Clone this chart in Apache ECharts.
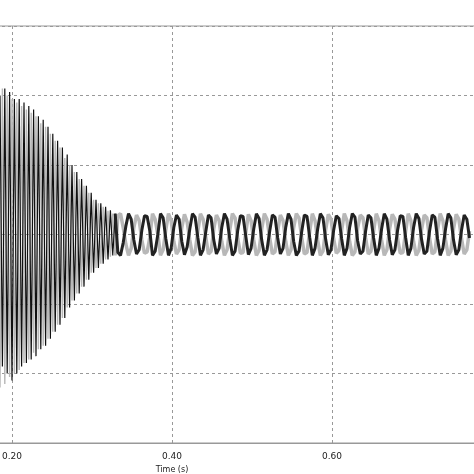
<!DOCTYPE html>
<html><head><meta charset="utf-8">
<script src="https://cdn.jsdelivr.net/npm/echarts@6/dist/echarts.min.js"></script>
<style>html,body{margin:0;padding:0;background:#fff}#c{width:474px;height:474px}</style>
</head><body><div id="c"></div>
<script>
const xTickLabels = ['0.00','0.20','0.40','0.60','0.80'];
const transientStart = 0.185, transientStep = 0.003;
const transientBlack = [2.0,-1.9,2.1,-2.0,2.05,-2.1,1.95,-2.0,1.95,-1.9,1.9,-1.85,1.85,-1.8,1.8,-1.75,1.7,-1.65,1.65,-1.6,1.55,-1.5,1.45,-1.4,1.35,-1.3,1.25,-1.2,1.15,-1.05,1.0,-0.95,0.9,-0.85,0.8,-0.75,0.7,-0.65,0.6,-0.55,0.5,-0.48,0.45,-0.42,0.4,-0.36,0.35,-0.3,0.3];
const transientGray = [-2.2,2.1,-2.15,2.0,-2.05,1.95,-2.0,1.9,-1.95,1.85,-1.85,1.8,-1.8,1.75,-1.7,1.7,-1.65,1.6,-1.6,1.55,-1.5,1.45,-1.4,1.35,-1.3,1.25,-1.2,1.1,-1.05,1.0,-0.95,0.9,-0.85,0.8,-0.75,0.7,-0.65,0.6,-0.55,0.5,-0.48,0.45,-0.42,0.4,-0.36,0.34,-0.32,0.3,-0.3];
const steadyStart = 0.329, steadyStep = 0.00333;
const steadyBlack = [
  0.3,-0.26,-0.3,-0.12, 0.12, 0.3,
  0.22,-0.08,-0.28,-0.22, 0.06, 0.27,
  0.26, 0.05,-0.3,-0.24, 0.0, 0.3,
  0.24,-0.06,-0.3,-0.2, 0.1, 0.28,
  0.22,-0.1,-0.29,-0.18, 0.08, 0.3,
  0.25,-0.04,-0.3,-0.22, 0.04, 0.28,
  0.24,-0.08,-0.28,-0.2, 0.1, 0.3,
  0.22,-0.06,-0.3,-0.24, 0.06, 0.27,
  0.26,-0.02,-0.29,-0.2, 0.08, 0.3,
  0.23,-0.08,-0.3,-0.22, 0.05, 0.28,
  0.25,-0.05,-0.28,-0.2, 0.1, 0.3,
  0.22,-0.1,-0.3,-0.24, 0.04, 0.28,
  0.26,-0.04,-0.3,-0.2, 0.08, 0.3,
  0.24,-0.07,-0.29,-0.22, 0.06, 0.27,
  0.23,-0.06,-0.3,-0.2, 0.1, 0.3,
  0.25,-0.09,-0.28,-0.24, 0.05, 0.28,
  0.24,-0.05,-0.3,-0.2, 0.08, 0.3,
  0.22,-0.08,-0.29,-0.22, 0.06, 0.27,
  0.26,-0.04,-0.3,-0.2, 0.1, 0.3,
  0.23,-0.07,-0.28,-0.24, 0.05, 0.28,
  0.25,-0.06,-0.3,-0.2, 0.08, 0.3,
  0.24,-0.08,-0.29,-0.22, 0.06, 0.28,
  0.22,-0.05];
const steadyGray = [
 -0.3, 0.27, 0.3, 0.1,-0.14,-0.3,
 -0.2, 0.1, 0.28, 0.2,-0.08,-0.27,
 -0.25,-0.04, 0.3, 0.22, 0.0,-0.3,
 -0.22, 0.07, 0.3, 0.2,-0.1,-0.28,
 -0.22, 0.1, 0.29, 0.18,-0.08,-0.3,
 -0.25, 0.04, 0.3, 0.22,-0.04,-0.28,
 -0.24, 0.08, 0.28, 0.2,-0.1,-0.3,
 -0.22, 0.06, 0.3, 0.24,-0.06,-0.27,
 -0.26, 0.02, 0.29, 0.2,-0.08,-0.3,
 -0.23, 0.08, 0.3, 0.22,-0.05,-0.28,
 -0.25, 0.05, 0.28, 0.2,-0.1,-0.3,
 -0.22, 0.1, 0.3, 0.24,-0.04,-0.28,
 -0.26, 0.04, 0.3, 0.2,-0.08,-0.3,
 -0.24, 0.07, 0.29, 0.22,-0.06,-0.27,
 -0.23, 0.06, 0.3, 0.2,-0.1,-0.3,
 -0.25, 0.09, 0.28, 0.24,-0.05,-0.28,
 -0.24, 0.05, 0.3, 0.2,-0.08,-0.3,
 -0.22, 0.08, 0.29, 0.22,-0.06,-0.27,
 -0.26, 0.04, 0.3, 0.2,-0.1,-0.3,
 -0.23, 0.07, 0.28, 0.24,-0.05,-0.28,
 -0.25, 0.06, 0.3, 0.2,-0.08,-0.3,
 -0.24, 0.08, 0.29, 0.22,-0.06,-0.28,
 -0.22, 0.05];

function build(arr, t0, dt){ return arr.map((v,i)=>[t0+i*dt, v]); }
const chart = echarts.init(document.getElementById('c'), null, {renderer:'canvas'});
chart.setOption({
  animation:false,
  grid:{left:-148, right:-18, top:26, bottom:31, show:true, borderColor:'#999', borderWidth:1, outerBoundsMode:'none', containLabel:false},
  xAxis:{type:'value', min:0, max:0.8, interval:0.2,
    name:'Time (s)', nameLocation:'middle', nameGap:17,
    nameTextStyle:{fontSize:8, color:'#222', fontFamily:'DejaVu Sans'},
    axisLine:{onZero:false, lineStyle:{color:'#999'}}, axisTick:{show:false},
    axisLabel:{fontSize:9, color:'#222', fontFamily:'DejaVu Sans', margin:9,
      formatter:(v)=>xTickLabels[Math.round(v/0.2)]},
    splitLine:{show:true, lineStyle:{color:'#999', type:[3,3]}}},
  yAxis:{type:'value', min:-3, max:3, interval:1,
    axisLabel:{show:false}, axisLine:{show:false}, axisTick:{show:false},
    splitLine:{show:true, lineStyle:{color:'#999', type:[3,3]}}},
  series:[
    {type:'line', data:build(transientGray, transientStart, transientStep), showSymbol:false, lineStyle:{color:'#b8b8b8', width:1.4}},
    {type:'line', data:build(transientBlack, transientStart, transientStep), showSymbol:false, lineStyle:{color:'#111', width:1.2}},
    {type:'line', data:build(steadyGray, steadyStart, steadyStep), showSymbol:false, lineStyle:{color:'#b8b8b8', width:3.5}},
    {type:'line', data:build(steadyBlack, steadyStart, steadyStep), showSymbol:false, lineStyle:{color:'#222', width:3}}
  ]
});
</script></body></html>
